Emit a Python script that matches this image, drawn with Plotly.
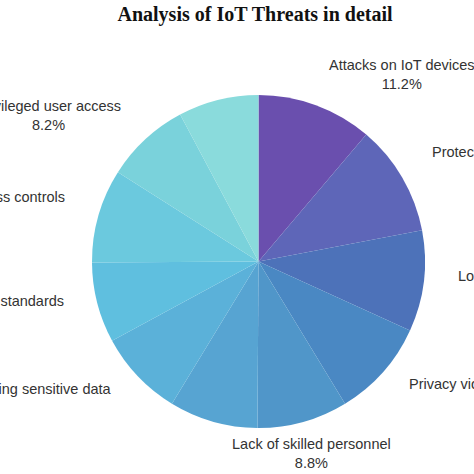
import math
import plotly.graph_objects as go

# ---- data ----
categories = [
    "Attacks on IoT devices",
    "Protecting devices and data",
    "Loss of device control",
    "Privacy violations and data breaches",
    "Lack of skilled personnel",
    "Insecure network connections",
    "Lack of encryption when storing sensitive data",
    "Inconsistent security standards",
    "Insufficient access controls",
    "Privileged user access",
    "Weak authentication",
]
values = [11.2, 10.8, 9.8, 9.5, 8.8, 8.6, 8.4, 7.8, 9.1, 8.2, 7.8]
colors = ["#6a4fae", "#5e66b8", "#4d72b9", "#4a88c3", "#5096c9", "#57a4d2",
          "#5bb1d9", "#5fbfdf", "#6bc9de", "#7ad2db", "#8adbdc"]
hidden_labels = ["Insecure network connections", "Weak authentication"]
title_text = "Analysis of IoT Threats in detail"

# ---- layout geometry (pixels) ----
W = H = 474
CX, CY, R = 258.5, 261.5, 166.5
LABEL_R = 1.195 * R


def px_to_paper_x(x):
    return x / W


def px_to_paper_y(y):
    return 1 - y / H


fig = go.Figure(go.Pie(
    labels=categories,
    values=values,
    sort=False,
    direction="clockwise",
    rotation=0,
    textinfo="none",
    hoverinfo="label+percent",
    marker=dict(colors=colors, line=dict(width=0)),
    domain=dict(x=[px_to_paper_x(CX - R), px_to_paper_x(CX + R)],
                y=[px_to_paper_y(CY + R), px_to_paper_y(CY - R)]),
    showlegend=False,
))

total = sum(values)
cum = 0.0
annotations = []
for lab, v in zip(categories, values):
    start = cum
    cum += v
    if lab in hidden_labels:
        continue
    mid = (start + v / 2) / total * 2 * math.pi
    s, c = math.sin(mid), math.cos(mid)
    px = CX + LABEL_R * s
    py = CY - LABEL_R * c
    if s > 0.3:
        xa = "left"
    elif s < -0.3:
        xa = "right"
    else:
        xa = "center"
    annotations.append(dict(
        x=px_to_paper_x(px), y=px_to_paper_y(py), xref="paper", yref="paper",
        text=f"{lab}<br>{v / total * 100:.1f}%",
        showarrow=False, xanchor=xa, yanchor="middle", align="center",
        font=dict(family="Liberation Sans, Arial, sans-serif", size=14.5, color="#333333"),
    ))

fig.update_layout(
    width=W, height=H,
    margin=dict(l=0, r=0, t=0, b=0),
    paper_bgcolor="white", plot_bgcolor="white",
    title=dict(text=f"<b>{title_text}</b>", x=px_to_paper_x(255), xref="paper",
               y=px_to_paper_y(14), yref="container", xanchor="center", yanchor="middle",
               font=dict(family="Liberation Serif, Times New Roman, serif", size=20, color="#111111")),
    annotations=annotations,
)

fig.write_html("out.html", config={"displayModeBar": False},
               post_script="document.body.style.margin='0';")
